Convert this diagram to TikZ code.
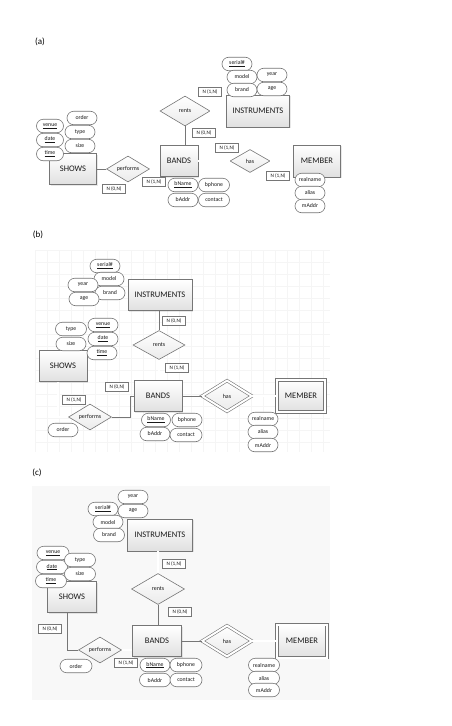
\documentclass[tikz,border=0pt]{standalone}
\usepackage{fontspec}
\setmainfont{Carlito}
\usetikzlibrary{shapes.geometric,shapes.misc,shadows}
\definecolor{edgec}{HTML}{767676}
\definecolor{bgc}{HTML}{F8F8F8}
\definecolor{gridc}{HTML}{F5F5F5}
\begin{document}
\begin{tikzpicture}[x=1pt,y=-1pt,
  every node/.style={text=black!90},
  ent/.style={rectangle, draw=edgec, line width=0.6pt, top color=white, bottom color=black!12,
    drop shadow={opacity=0.18, shadow xshift=1pt, shadow yshift=-1pt},
    inner sep=0pt, minimum width=48pt, minimum height=31pt, font=\fontsize{8.5}{10}\selectfont},
  wkent/.style={ent, double=white, double distance=2pt},
  rel/.style={diamond, aspect=2, draw=edgec, line width=0.6pt, top color=white, bottom color=black!8,
    inner sep=0pt, minimum width=50pt, minimum height=30pt, font=\fontsize{6}{7}\selectfont},
  wkrel/.style={rel, double=white, double distance=2pt},
  attr/.style={rounded rectangle, draw=edgec, line width=0.6pt, fill=white, inner sep=0pt,
    minimum width=30pt, minimum height=13.5pt, font=\fontsize{5.8}{7}\selectfont},
  card/.style={rectangle, draw=edgec, line width=0.5pt, fill=white, inner sep=1pt,
    minimum width=23pt, minimum height=9pt, font=\fontsize{5.2}{6}\selectfont},
  lnk/.style={draw=edgec, line width=0.6pt},
  dlnk/.style={draw=edgec, line width=0.5pt, double=white, double distance=1.6pt},
  panel/.style={font=\fontsize{9}{11}\selectfont, text=black}
]
\useasboundingbox (0,0) rectangle (451,726);
\fill[white] (0,0) rectangle (451,726);

% ---------- backgrounds ----------
\foreach \gx in {35,47,...,330} \draw[gridc, line width=0.3pt] (\gx,250) -- (\gx,452);
\foreach \gy in {250,262,...,452} \draw[gridc, line width=0.3pt] (35,\gy) -- (330,\gy);
\fill[bgc] (32,486) rectangle (330,700);

% ================= (a) =================
\node[panel] (la) at (40,42) {(a)};
\node[ent, minimum width=63pt, minimum height=32pt] (aIns) at (258,111) {INSTRUMENTS};
\node[ent, minimum width=38pt] (aBands) at (179,161) {BANDS};
\node[ent, minimum width=47pt, minimum height=32pt] (aMem) at (317,161) {MEMBER};
\node[ent, minimum width=47pt] (aShows) at (73,169) {SHOWS};
\node[rel] (aRents) at (185,111) {rents};
\node[rel, minimum width=40pt, minimum height=23pt] (aHas) at (250,161) {has};
\node[rel, minimum width=43pt, minimum height=26pt] (aPerf) at (128,169) {performs};

\draw[dlnk] (aRents.east) -- (aIns.west);
\draw[lnk] (aRents.south) -- (aRents.south |- aBands.north);
\draw[dlnk] (aBands.east) -- (aHas.west);
\draw[dlnk] (aHas.east) -- (aMem.west);
\draw[lnk] (aShows.east) -- (aPerf.west);
\draw[dlnk] (aPerf.east) -- (aPerf.east -| aBands.west);

\node[attr] (aSer) at (237,64) {\underline{serial\#}};
\node[attr] (aModel) at (242,77) {model};
\node[attr] (aBrand) at (242,90) {brand};
\node[attr] (aYear) at (272,75) {year};
\node[attr] (aAge) at (272,89) {age};
\node[attr] (aOrder) at (82,118) {order};
\node[attr, minimum width=27pt] (aVenue) at (50,126) {\underline{venue}};
\node[attr] (aType) at (80,132) {type};
\node[attr, minimum width=27pt] (aDate) at (50,140) {\underline{date}};
\node[attr] (aSize) at (80,146) {size};
\node[attr, minimum width=27pt] (aTime) at (50,154) {\underline{time}};
\node[attr] (aBName) at (183,185) {\underline{bName}};
\node[attr, minimum width=31pt] (aBPhone) at (214,185) {bphone};
\node[attr] (aBAddr) at (183,200) {bAddr};
\node[attr, minimum width=31pt] (aContact) at (214,200) {contact};
\node[attr] (aReal) at (310,180) {realname};
\node[attr] (aAlias) at (310,193) {alias};
\node[attr] (aMAddr) at (310,206) {mAddr};

\node[card] (ac1) at (210,92) {N (1,N)};
\node[card] (ac2) at (204,133) {N (0,N)};
\node[card] (ac3) at (227,148) {N (1,N)};
\node[card] (ac4) at (278,176) {N (1,N)};
\node[card] (ac5) at (154,182) {N (1,N)};
\node[card] (ac6) at (114,189) {N (0,N)};

% ================= (b) =================
\node[panel] (lb) at (38,235) {(b)};
\node[ent, minimum width=64pt] (bIns) at (160,295) {INSTRUMENTS};
\node[ent] (bBands) at (158,396) {BANDS};
\node[ent] (bShows) at (63,366) {SHOWS};
\node[wkent, minimum height=32pt] (bMem) at (301,396) {MEMBER};
\node[rel, minimum width=52pt, minimum height=29pt] (bRents) at (159,345) {rents};
\node[wkrel, minimum width=50pt, minimum height=31pt] (bHas) at (227,396) {has};
\node[rel, minimum width=43pt, minimum height=26pt] (bPerf) at (90,417) {performs};

\coordinate (bSx) at (58,0);
\coordinate (bPx) at (130,0);
\draw[lnk] (bIns.south -| bRents.north) -- (bRents.north);
\draw[dlnk] (bRents.south) -- (bRents.south |- bBands.north);
\draw[lnk] (bBands.east) -- (bHas.west);
\draw[dlnk] (bHas.east) -- (bMem.west);
\draw[dlnk] (bShows.south -| bSx) |- (bPerf.west);
\draw[lnk] (bPerf.east) -| (bPx |- bBands.west) -- (bBands.west);

\node[attr] (bSer) at (105,266) {\underline{serial\#}};
\node[attr] (bModel) at (109,279) {model};
\node[attr] (bBrand) at (110,293) {brand};
\node[attr] (bYear) at (83,285) {year};
\node[attr] (bAge) at (84,299) {age};
\node[attr, minimum width=31pt] (bType) at (71,329) {type};
\node[attr] (bSize) at (71,344) {size};
\node[attr] (bVenue) at (103,325) {\underline{venue}};
\node[attr] (bDate) at (103,339) {\underline{date}};
\node[attr] (bTime) at (102,353) {\underline{time}};
\node[attr] (bOrder) at (63,430) {order};
\node[attr, minimum width=29pt] (bBName) at (156,420) {\underline{bName}};
\node[attr] (bBPhone) at (187,420) {bphone};
\node[attr] (bBAddr) at (155,434) {bAddr};
\node[attr, minimum width=32pt] (bContact) at (186,435) {contact};
\node[attr] (bReal) at (263,419) {realname};
\node[attr] (bAlias) at (263,432) {alias};
\node[attr] (bMAddr) at (263,445) {mAddr};

\node[card] (bc1) at (174,321) {N (0,N)};
\node[card] (bc2) at (177,368) {N (1,N)};
\node[card] (bc3) at (117,387) {N (0,N)};
\node[card] (bc4) at (74,400) {N (1,N)};

% ================= (c) =================
\node[panel] (lc) at (37,473) {(c)};
\node[ent, minimum width=65pt, minimum height=32pt] (cIns) at (160,535) {INSTRUMENTS};
\node[ent, minimum width=49pt] (cBands) at (157,641) {BANDS};
\node[ent, minimum width=49pt] (cShows) at (72,597) {SHOWS};
\node[wkent, minimum width=50pt, minimum height=33pt] (cMem) at (302,641) {MEMBER};
\node[rel, minimum width=53pt, minimum height=31pt] (cRents) at (158,589) {rents};
\node[wkrel, minimum width=50pt, minimum height=31pt] (cHas) at (227,641) {has};
\node[rel, minimum width=43pt, minimum height=26pt] (cPerf) at (100,650) {performs};

\coordinate (cSx) at (67,0);
\draw[dlnk] (cIns.south -| cRents.north) -- (cRents.north);
\draw[lnk] (cRents.south) -- (cRents.south |- cBands.north);
\draw[lnk] (cBands.east) -- (cHas.west);
\draw[dlnk] (cHas.east) -- (cMem.west);
\draw[lnk] (cShows.south -| cSx) |- (cPerf.west);
\draw[dlnk] (cPerf.east) -- (cPerf.east -| cBands.west);

\node[attr] (cYear) at (133,497) {year};
\node[attr] (cAge) at (133,511) {age};
\node[attr] (cSer) at (103,509) {\underline{serial\#}};
\node[attr] (cModel) at (108,522) {model};
\node[attr, minimum width=31pt] (cBrand) at (109,535) {brand};
\node[attr, minimum width=32pt] (cVenue) at (53,553) {\underline{venue}};
\node[attr, minimum width=31pt] (cDate) at (52,567) {\underline{date}};
\node[attr, minimum width=31pt] (cTime) at (51,581) {\underline{time}};
\node[attr, minimum width=31pt] (cType) at (80,560) {type};
\node[attr, minimum width=31pt] (cSize) at (80,574) {size};
\node[attr, minimum width=32pt] (cOrder) at (76,666) {order};
\node[attr] (cBName) at (155,665) {\underline{bName}};
\node[attr, minimum width=32pt] (cBPhone) at (186,665) {bphone};
\node[attr, minimum width=31pt] (cBAddr) at (155,680) {bAddr};
\node[attr, minimum width=32pt] (cContact) at (186,680) {contact};
\node[attr, minimum width=31pt] (cReal) at (264,665) {realname};
\node[attr, minimum width=31pt] (cAlias) at (264,678) {alias};
\node[attr, minimum width=31pt] (cMAddr) at (264,690) {mAddr};

\node[card] (cc1) at (174,564) {N (1,N)};
\node[card] (cc2) at (180,612) {N (0,N)};
\node[card] (cc3) at (50,629) {N (0,N)};
\node[card] (cc4) at (126,663) {N (1,N)};
\end{tikzpicture}
\end{document}
